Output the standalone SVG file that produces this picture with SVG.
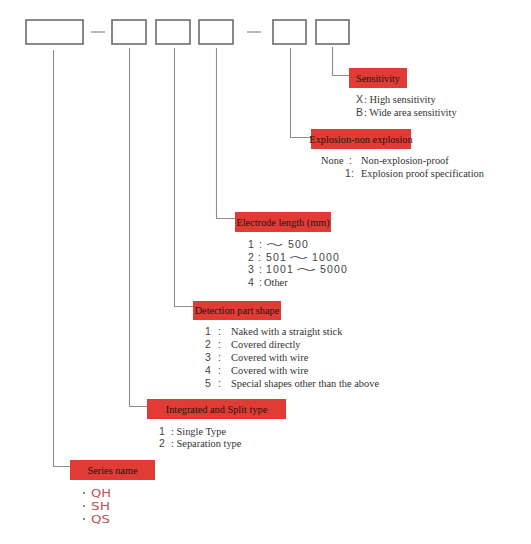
<svg xmlns="http://www.w3.org/2000/svg" width="531" height="544" viewBox="0 0 531 544">
<style>
.slot{fill:#fff;stroke:#6e6a6a;stroke-width:1.6}
.dash{stroke:#8a8a8a;stroke-width:1.2}
.conn{fill:none;stroke:#8c8c8c;stroke-width:1.1}
.tag{fill:#e03b34}
.tagt{font-family:"Liberation Serif","Times New Roman",serif;font-size:10.3px;fill:#2a1212;text-anchor:middle}
.it{font-family:"Liberation Serif","Times New Roman",serif;font-size:10.4px;fill:#333}
.sn{font-family:"Liberation Sans","DejaVu Sans","Noto Sans CJK JP",sans-serif;font-size:10.5px;fill:#444}
.num{font-family:"Liberation Sans","DejaVu Sans",sans-serif;font-size:10.5px;letter-spacing:1.2px;fill:#444}
.wave{font-family:"Noto Sans CJK JP","DejaVu Sans",sans-serif;font-size:9.5px;fill:#444}
.ser{font-family:"DejaVu Sans","Liberation Sans",sans-serif;font-size:10.5px;fill:#c4505a}
</style>
<rect width="531" height="544" fill="#fff"/>
<g id="code">
<rect class="slot" x="26" y="20" width="57" height="24"/>
<line class="dash" x1="91" y1="32" x2="105" y2="32"/>
<rect class="slot" x="112" y="20" width="34" height="24"/>
<rect class="slot" x="156" y="20" width="34" height="24"/>
<rect class="slot" x="199" y="20" width="34" height="24"/>
<line class="dash" x1="247" y1="32" x2="261" y2="32"/>
<rect class="slot" x="273" y="20" width="33" height="24"/>
<rect class="slot" x="316" y="20" width="33" height="24"/>
</g>
<g id="connectors">
<polyline class="conn" points="53.5,50 53.5,466.5 70,466.5"/>
<polyline class="conn" points="129.5,48 129.5,406.5 147,406.5"/>
<polyline class="conn" points="174.5,48 174.5,306.5 193,306.5"/>
<polyline class="conn" points="216.5,48 216.5,218.5 235,218.5"/>
<polyline class="conn" points="290.5,48 290.5,137.5 311,137.5"/>
<polyline class="conn" points="332.5,47 332.5,75.5 349,75.5"/>
</g>
<g id="sensitivity">
<rect class="tag" x="349" y="68" width="58" height="20"/>
<text class="tagt" x="378" y="82">Sensitivity</text>
<text class="it" y="103"><tspan class="sn" x="356">X</tspan><tspan x="364">: High sensitivity</tspan></text>
<text class="it" y="116"><tspan class="sn" x="356">B</tspan><tspan x="364">: Wide area sensitivity</tspan></text>
</g>
<g id="explosion">
<rect class="tag" x="311" y="129" width="100" height="20"/>
<text class="tagt" x="361" y="143">Explosion-non explosion</text>
<text class="it" x="321" y="164">None</text>
<text class="sn" x="349" y="164">:</text>
<text class="it" x="361" y="164">Non-explosion-proof</text>
<text class="sn" x="345" y="177">1</text>
<text class="sn" x="351" y="177">:</text>
<text class="it" x="361" y="177">Explosion proof specification</text>
</g>
<g id="electrode">
<rect class="tag" x="235" y="212" width="96" height="20"/>
<text class="tagt" x="283" y="225.5">Electrode length (mm)</text>
<text class="num" x="248" y="248">1</text><text class="num" x="259" y="248">:</text>
<text class="wave" x="266" y="248" textLength="17" lengthAdjust="spacingAndGlyphs">～</text>
<text class="num" x="288" y="248">500</text>
<text class="num" x="248" y="260.5">2</text><text class="num" x="258" y="260.5">:</text>
<text class="num" x="266" y="260.5">501</text>
<text class="wave" x="289" y="260.5" textLength="19" lengthAdjust="spacingAndGlyphs">～</text>
<text class="num" x="312" y="260.5">1000</text>
<text class="num" x="248" y="273">3</text><text class="num" x="259" y="273">:</text>
<text class="num" x="266" y="273">1001</text>
<text class="wave" x="296" y="273" textLength="20" lengthAdjust="spacingAndGlyphs">～</text>
<text class="num" x="320" y="273">5000</text>
<text class="num" x="248" y="285.5">4</text><text class="num" x="259" y="285.5">:</text>
<text class="it" x="264" y="285.5">Other</text>
</g>
<g id="detection">
<rect class="tag" x="193" y="301" width="88" height="19"/>
<text class="tagt" x="237" y="314">Detection part shape</text>
<g class="num">
<text x="205" y="335">1</text><text x="218" y="335">:</text>
<text x="205" y="348">2</text><text x="218" y="348">:</text>
<text x="205" y="361">3</text><text x="218" y="361">:</text>
<text x="205" y="373.5">4</text><text x="218" y="373.5">:</text>
<text x="205" y="386.5">5</text><text x="218" y="386.5">:</text>
</g>
<text class="it" x="231" y="335">Naked with a straight stick</text>
<text class="it" x="231" y="348">Covered directly</text>
<text class="it" x="231" y="361">Covered with wire</text>
<text class="it" x="231" y="373.5">Covered with wire</text>
<text class="it" x="231" y="386.5">Special shapes other than the above</text>
</g>
<g id="integrated">
<rect class="tag" x="147" y="399" width="139" height="20"/>
<text class="tagt" x="216.5" y="413">Integrated and Split type</text>
<text class="num" x="159" y="435">1</text>
<text class="it" x="171" y="435">: Single Type</text>
<text class="num" x="159" y="447">2</text>
<text class="it" x="171" y="447">: Separation type</text>
</g>
<g id="series">
<rect class="tag" x="70" y="460" width="85" height="20"/>
<text class="tagt" x="112.5" y="474">Series name</text>
<circle cx="84" cy="493" r="0.9" fill="#555"/>
<circle cx="84" cy="506" r="0.9" fill="#555"/>
<circle cx="84" cy="519" r="0.9" fill="#555"/>
<text class="ser" x="91" y="496.5" textLength="20" lengthAdjust="spacingAndGlyphs">QH</text>
<text class="ser" x="91" y="509.5" textLength="19" lengthAdjust="spacingAndGlyphs">SH</text>
<text class="ser" x="91" y="522.5" textLength="19" lengthAdjust="spacingAndGlyphs">QS</text>
</g>
</svg>
